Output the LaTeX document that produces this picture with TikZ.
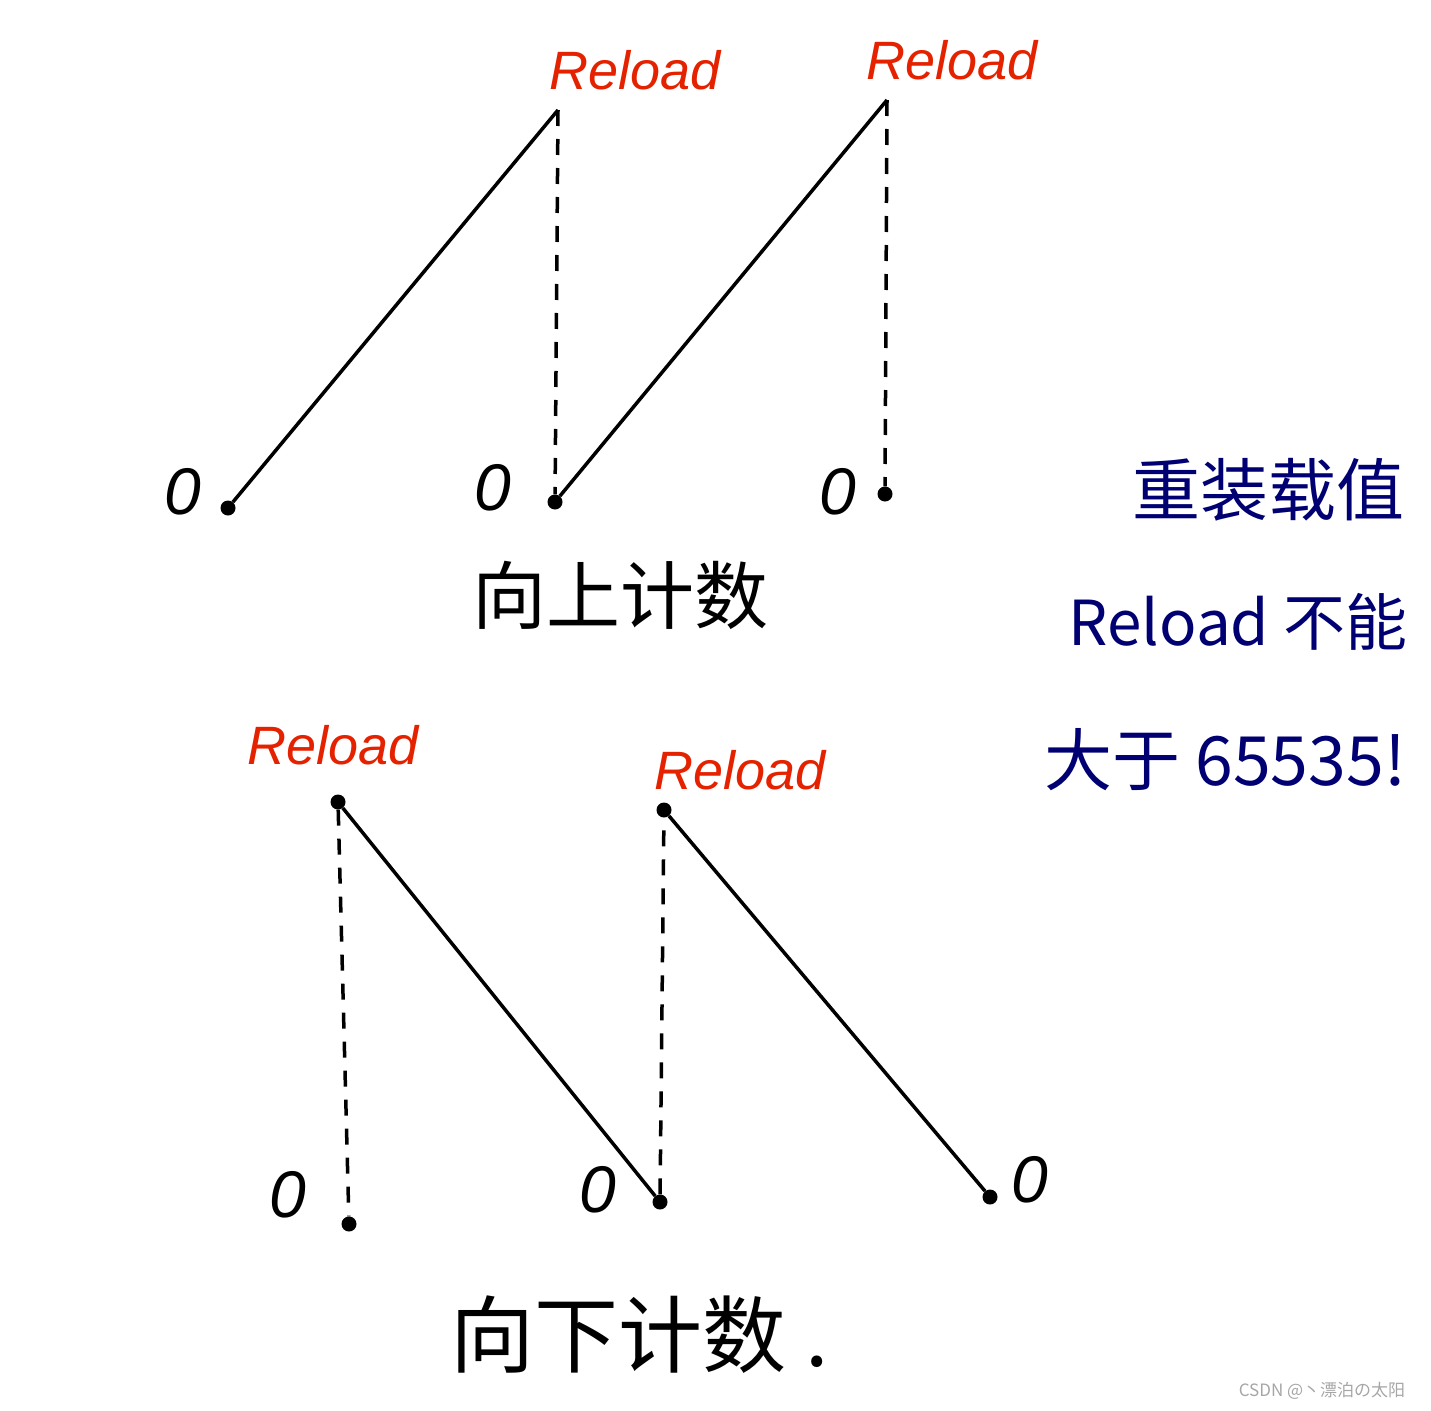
\documentclass[tikz,border=0pt]{standalone}
\usepackage{fontspec}
\setmainfont{Liberation Sans}
\newfontfamily\cjk{Noto Sans CJK SC}
\begin{document}
\begin{tikzpicture}[x=1pt,y=-1pt,
  solidl/.style={line width=3.5pt},
  dashl/.style={line width=3.5pt,dash pattern=on 16pt off 13pt},
  dotn/.style={circle,fill=black,inner sep=0pt,minimum size=15pt},
  zero/.style={font=\fontsize{66}{66}\selectfont\itshape},
  rel/.style={text=red!70!orange!90!black,font=\fontsize{54}{54}\selectfont\itshape},
  cn/.style={font=\cjk\fontsize{74}{74}\selectfont},
  nv/.style={text=blue!45!black,font=\cjk\fontsize{68}{68}\selectfont}]
\useasboundingbox (0,0) rectangle (1431,1410);
% top
\node[dotn] (a) at (228,508) {};
\coordinate (ta) at (558,110);
\node[dotn] (b) at (555,502) {};
\coordinate (tb) at (887,100);
\node[dotn] (c) at (885,494) {};
\draw[solidl] (a) -- (ta);
\draw[dashl] (ta) -- (b);
\draw[solidl] (b) -- (tb);
\draw[dashl] (tb) -- (c);
\node[zero] (z1) at (183,492) {0};
\node[zero] (z2) at (493,488) {0};
\node[zero] (z3) at (838,492) {0};
\node[rel] (r1) at (635,70) {Reload};
\node[rel] (r2) at (952,60) {Reload};
\node[cn] (up) at (620,595) {向上计数};
% bottom
\node[dotn] (d) at (338,802) {};
\node[dotn] (e) at (349,1224) {};
\node[dotn] (f) at (660,1202) {};
\node[dotn] (g) at (664,810) {};
\node[dotn] (h) at (990,1197) {};
\draw[dashl] (d) -- (e);
\draw[solidl] (d) -- (f);
\draw[dashl] (f) -- (g);
\draw[solidl] (g) -- (h);
\node[zero] (z4) at (288,1195) {0};
\node[zero] (z5) at (598,1190) {0};
\node[zero] (z6) at (1030,1180) {0};
\node[rel] (r3) at (333,745) {Reload};
\node[rel] (r4) at (740,770) {Reload};
\node[cn,font=\cjk\fontsize{84}{84}\selectfont] (down) at (640,1335) {向下计数 .};
% right note
\node[nv] (n1) at (1268,490) {重装载值};
\node[nv,font=\cjk\fontsize{62}{62}\selectfont] (n2) at (1238,622) {\itshape Reload 不能};
\node[nv] (n3) at (1225,760) {大于 65535!};
\node[text=gray!70,font=\cjk\fontsize{17}{17}\selectfont] (wm) at (1322,1391) {CSDN @丶漂泊の太阳};
\end{tikzpicture}
\end{document}
